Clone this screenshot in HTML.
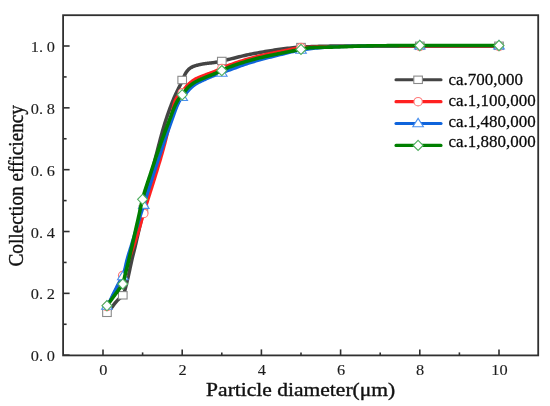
<!DOCTYPE html>
<html><head><meta charset="utf-8"><style>
html,body{margin:0;padding:0;background:#fff;width:550px;height:406px;overflow:hidden;}
svg{display:block;}
</style></head><body>
<svg width="550" height="406" viewBox="0 0 550 406">
<style>
.tk{font-family:"Liberation Serif",serif;font-size:14.6px;fill:#1c1c1c;stroke:#1c1c1c;stroke-width:0.12px;}
.ttl{font-family:"Liberation Serif",serif;font-size:17.8px;fill:#111;stroke:#111;stroke-width:0.35px;}
.lg{font-family:"Liberation Serif",serif;font-size:16.5px;fill:#0a0a0a;stroke:#0a0a0a;stroke-width:0.25px;}
</style>
<rect width="550" height="406" fill="#fff"/>
<polyline points="107.50,312.80 107.94,312.26 108.38,311.72 108.83,311.17 109.27,310.62 109.71,310.07 110.15,309.51 110.59,308.95 111.04,308.39 111.48,307.83 111.92,307.25 112.36,306.66 112.81,306.07 113.25,305.46 113.69,304.87 114.13,304.28 114.57,303.70 115.02,303.14 115.46,302.61 115.90,302.09 116.34,301.59 116.78,301.09 117.23,300.61 117.67,300.14 118.11,299.69 118.55,299.25 118.99,298.85 119.44,298.51 119.88,298.19 120.32,297.89 120.76,297.59 121.20,297.27 121.65,296.92 122.09,296.52 122.53,296.06 122.97,295.52 123.42,294.84 123.86,293.79 124.30,292.42 124.74,290.82 125.18,289.07 125.63,287.27 126.07,285.51 126.51,283.80 126.95,282.02 127.39,280.16 127.84,278.25 128.28,276.31 128.72,274.35 129.16,272.37 129.60,270.31 130.05,268.21 130.49,266.11 130.93,264.03 131.37,262.01 131.81,260.07 132.26,258.20 132.70,256.37 133.14,254.57 133.58,252.80 134.03,251.03 134.47,249.26 134.91,247.46 135.35,245.63 135.79,243.75 136.24,241.84 136.68,239.92 137.12,237.98 137.56,236.04 138.00,234.11 138.45,232.20 138.89,230.30 139.33,228.39 139.77,226.47 140.21,224.53 140.66,222.56 141.10,220.55 141.54,218.46 141.98,216.33 142.42,214.17 142.87,212.02 143.31,209.92 143.75,207.88 144.19,205.84 144.64,203.81 145.08,201.79 145.52,199.79 145.96,197.79 146.40,195.81 146.85,193.83 147.29,191.87 147.73,189.92 148.17,187.98 148.61,186.06 149.06,184.15 149.50,182.25 149.94,180.37 150.38,178.50 150.82,176.64 151.27,174.80 151.71,172.97 152.15,171.15 152.59,169.34 153.03,167.55 153.48,165.77 153.92,163.99 154.36,162.23 154.80,160.48 155.25,158.74 155.69,157.01 156.13,155.29 156.57,153.57 157.01,151.87 157.46,150.17 157.90,148.47 158.34,146.77 158.78,145.06 159.22,143.36 159.67,141.66 160.11,139.97 160.55,138.29 160.99,136.62 161.43,134.97 161.88,133.35 162.32,131.75 162.76,130.18 163.20,128.65 163.64,127.15 164.09,125.69 164.53,124.27 164.97,122.87 165.41,121.49 165.86,120.13 166.30,118.78 166.74,117.45 167.18,116.14 167.62,114.85 168.07,113.57 168.51,112.32 168.95,111.07 169.39,109.85 169.83,108.64 170.28,107.45 170.72,106.28 171.16,105.12 171.60,103.98 172.04,102.86 172.49,101.75 172.93,100.66 173.37,99.59 173.81,98.54 174.25,97.51 174.70,96.51 175.14,95.52 175.58,94.55 176.02,93.60 176.47,92.66 176.91,91.74 177.35,90.82 177.79,89.91 178.23,89.01 178.68,88.11 179.12,87.21 179.56,86.31 180.00,85.42 180.44,84.51 180.89,83.61 181.33,82.69 181.77,81.77 182.21,80.83 182.65,79.88 183.10,78.88 183.54,77.83 183.98,76.77 184.42,75.72 184.86,74.73 185.31,73.82 185.75,73.04 186.19,72.37 186.63,71.75 187.08,71.16 187.52,70.60 187.96,70.09 188.40,69.61 188.84,69.18 189.29,68.79 189.73,68.45 190.17,68.15 190.61,67.86 191.05,67.59 191.50,67.33 191.94,67.10 192.38,66.87 192.82,66.66 193.26,66.47 193.71,66.29 194.15,66.12 194.59,65.97 195.03,65.83 195.47,65.69 195.92,65.56 196.36,65.43 196.80,65.30 197.24,65.19 197.69,65.07 198.13,64.96 198.57,64.85 199.01,64.75 199.45,64.65 199.90,64.56 200.34,64.46 200.78,64.37 201.22,64.29 201.66,64.20 202.11,64.12 202.55,64.04 202.99,63.97 203.43,63.89 203.87,63.82 204.32,63.75 204.76,63.68 205.20,63.61 205.64,63.55 206.08,63.49 206.53,63.43 206.97,63.37 207.41,63.32 207.85,63.27 208.30,63.22 208.74,63.18 209.18,63.13 209.62,63.08 210.06,63.04 210.51,62.99 210.95,62.94 211.39,62.89 211.83,62.84 212.27,62.79 212.72,62.73 213.16,62.68 213.60,62.62 214.04,62.55 214.48,62.49 214.93,62.42 215.37,62.34 215.81,62.26 216.25,62.18 216.69,62.09 217.14,62.00 217.58,61.91 218.02,61.82 218.46,61.73 218.91,61.63 219.35,61.54 219.79,61.44 220.23,61.34 220.67,61.24 221.12,61.15 221.56,61.05 222.00,60.96 222.50,60.85 224.36,60.44 226.21,60.01 228.07,59.57 229.92,59.12 231.78,58.67 233.63,58.21 235.49,57.74 237.35,57.28 239.20,56.82 241.06,56.37 242.91,55.92 244.77,55.48 246.62,55.06 248.48,54.65 250.34,54.27 252.19,53.90 254.05,53.55 255.90,53.20 257.76,52.86 259.61,52.53 261.47,52.20 263.33,51.88 265.18,51.57 267.04,51.26 268.89,50.96 270.75,50.66 272.60,50.38 274.46,50.10 276.32,49.83 278.17,49.56 280.03,49.31 281.88,49.06 283.74,48.82 285.59,48.59 287.45,48.36 289.31,48.13 291.16,47.90 293.02,47.68 294.87,47.47 296.73,47.29 298.58,47.14 300.44,47.03 302.30,46.94 304.15,46.86 306.01,46.79 307.86,46.71 309.72,46.64 311.57,46.58 313.43,46.51 315.29,46.45 317.14,46.40 319.00,46.35 320.85,46.30 322.71,46.25 324.56,46.21 326.42,46.17 328.28,46.13 330.13,46.10 331.99,46.08 333.84,46.05 335.70,46.03 337.55,46.02 339.41,46.00 341.27,45.99 343.12,45.98 344.98,45.98 346.83,45.97 348.69,45.96 350.54,45.95 352.40,45.94 354.26,45.93 356.11,45.93 357.97,45.92 359.82,45.91 361.68,45.91 363.53,45.90 365.39,45.89 367.24,45.89 369.10,45.88 370.96,45.87 372.81,45.87 374.67,45.86 376.52,45.86 378.38,45.85 380.23,45.85 382.09,45.84 383.95,45.84 385.80,45.84 387.66,45.83 389.51,45.83 391.37,45.83 393.22,45.82 395.08,45.82 396.94,45.82 398.79,45.81 400.65,45.81 402.50,45.81 404.36,45.81 406.21,45.81 408.07,45.80 409.93,45.80 411.78,45.80 413.64,45.80 415.49,45.80 417.35,45.80 419.20,45.80 421.06,45.80 422.92,45.80 424.77,45.80 426.63,45.80 428.48,45.80 430.34,45.80 432.19,45.80 434.05,45.80 435.91,45.80 437.76,45.80 439.62,45.80 441.47,45.80 443.33,45.80 445.18,45.80 447.04,45.80 448.90,45.80 450.75,45.80 452.61,45.80 454.46,45.80 456.32,45.80 458.17,45.80 460.03,45.80 461.89,45.80 463.74,45.80 465.60,45.80 467.45,45.80 469.31,45.80 471.16,45.80 473.02,45.80 474.88,45.80 476.73,45.80 478.59,45.80 480.44,45.80 482.30,45.80 484.15,45.80 486.01,45.80 487.87,45.80 489.72,45.80 491.58,45.80 493.43,45.80 495.29,45.80 497.14,45.80 499.00,45.80" fill="none" stroke="#444444" stroke-width="3.5" stroke-linejoin="round" stroke-linecap="round"/>
<rect x="102.66" y="309.10" width="8.6" height="7.4" fill="#fff" stroke="#8a8a8a" stroke-width="1.1"/>
<rect x="118.50" y="291.60" width="8.6" height="7.4" fill="#fff" stroke="#8a8a8a" stroke-width="1.1"/>
<rect x="139.09" y="205.80" width="8.6" height="7.4" fill="#fff" stroke="#8a8a8a" stroke-width="1.1"/>
<rect x="177.90" y="76.30" width="8.6" height="7.4" fill="#fff" stroke="#8a8a8a" stroke-width="1.1"/>
<rect x="217.50" y="57.30" width="8.6" height="7.4" fill="#fff" stroke="#8a8a8a" stroke-width="1.1"/>
<rect x="296.70" y="43.40" width="8.6" height="7.4" fill="#fff" stroke="#8a8a8a" stroke-width="1.1"/>
<rect x="415.50" y="42.10" width="8.6" height="7.4" fill="#fff" stroke="#8a8a8a" stroke-width="1.1"/>
<rect x="494.70" y="42.10" width="8.6" height="7.4" fill="#fff" stroke="#8a8a8a" stroke-width="1.1"/>
<polyline points="107.00,306.60 107.44,305.87 107.89,305.12 108.33,304.36 108.78,303.58 109.22,302.79 109.66,301.98 110.11,301.16 110.55,300.32 111.00,299.46 111.44,298.57 111.88,297.67 112.33,296.76 112.77,295.86 113.22,294.97 113.66,294.08 114.10,293.20 114.55,292.31 114.99,291.43 115.44,290.53 115.88,289.63 116.32,288.74 116.77,287.84 117.21,286.94 117.66,286.03 118.10,285.11 118.54,284.18 118.99,283.23 119.43,282.24 119.88,281.23 120.32,280.21 120.76,279.17 121.21,278.12 121.65,277.09 122.10,276.06 122.54,275.06 122.98,274.08 123.43,273.12 123.87,272.16 124.32,271.19 124.76,270.21 125.20,269.19 125.65,268.14 126.09,267.07 126.54,265.96 126.98,264.83 127.42,263.69 127.87,262.52 128.31,261.34 128.76,260.16 129.20,258.95 129.64,257.73 130.09,256.47 130.53,255.21 130.98,253.93 131.42,252.65 131.86,251.38 132.31,250.13 132.75,248.89 133.20,247.65 133.64,246.41 134.08,245.16 134.53,243.88 134.97,242.58 135.42,241.25 135.86,239.90 136.31,238.53 136.75,237.14 137.19,235.74 137.64,234.33 138.08,232.90 138.53,231.45 138.97,230.00 139.41,228.53 139.86,227.03 140.30,225.51 140.75,223.97 141.19,222.42 141.63,220.86 142.08,219.31 142.52,217.76 142.97,216.23 143.41,214.71 143.85,213.22 144.30,211.75 144.74,210.29 145.19,208.84 145.63,207.40 146.07,205.96 146.52,204.54 146.96,203.12 147.41,201.70 147.85,200.29 148.29,198.89 148.74,197.49 149.18,196.09 149.63,194.69 150.07,193.30 150.51,191.90 150.96,190.50 151.40,189.11 151.85,187.71 152.29,186.30 152.73,184.90 153.18,183.48 153.62,182.07 154.07,180.64 154.51,179.21 154.95,177.77 155.40,176.32 155.84,174.86 156.29,173.40 156.73,171.95 157.17,170.49 157.62,169.04 158.06,167.59 158.51,166.13 158.95,164.66 159.39,163.19 159.84,161.71 160.28,160.22 160.73,158.71 161.17,157.19 161.61,155.65 162.06,154.10 162.50,152.52 162.95,150.93 163.39,149.30 163.83,147.65 164.28,145.98 164.72,144.28 165.17,142.56 165.61,140.82 166.05,139.06 166.50,137.28 166.94,135.49 167.39,133.69 167.83,131.88 168.27,130.06 168.72,128.23 169.16,126.40 169.61,124.56 170.05,122.60 170.49,120.51 170.94,118.32 171.38,116.08 171.83,113.82 172.27,111.58 172.71,109.40 173.16,107.33 173.60,105.40 174.05,103.64 174.49,102.11 174.93,100.83 175.38,99.85 175.82,99.02 176.27,98.26 176.71,97.57 177.15,96.93 177.60,96.34 178.04,95.79 178.49,95.27 178.93,94.78 179.37,94.31 179.82,93.86 180.26,93.41 180.71,92.96 181.15,92.51 181.59,92.04 182.04,91.54 182.48,91.02 182.93,90.48 183.37,89.92 183.81,89.36 184.26,88.80 184.70,88.24 185.15,87.69 185.59,87.14 186.03,86.61 186.48,86.10 186.92,85.60 187.37,85.13 187.81,84.69 188.25,84.26 188.70,83.85 189.14,83.45 189.59,83.05 190.03,82.66 190.47,82.28 190.92,81.91 191.36,81.56 191.81,81.21 192.25,80.87 192.69,80.55 193.14,80.24 193.58,79.94 194.03,79.66 194.47,79.39 194.92,79.14 195.36,78.89 195.80,78.66 196.25,78.43 196.69,78.22 197.14,78.01 197.58,77.80 198.02,77.60 198.47,77.41 198.91,77.22 199.36,77.04 199.80,76.86 200.24,76.69 200.69,76.51 201.13,76.34 201.58,76.17 202.02,76.00 202.46,75.83 202.91,75.66 203.35,75.49 203.80,75.32 204.24,75.14 204.68,74.97 205.13,74.79 205.57,74.62 206.02,74.44 206.46,74.28 206.90,74.11 207.35,73.94 207.79,73.78 208.24,73.61 208.68,73.45 209.12,73.29 209.57,73.12 210.01,72.96 210.46,72.80 210.90,72.63 211.34,72.47 211.79,72.31 212.23,72.14 212.68,71.97 213.12,71.80 213.56,71.63 214.01,71.46 214.45,71.28 214.90,71.10 215.34,70.92 215.78,70.73 216.23,70.55 216.67,70.36 217.12,70.16 217.56,69.97 218.00,69.78 218.45,69.58 218.89,69.38 219.34,69.18 219.78,68.99 220.22,68.79 220.67,68.59 221.11,68.39 221.56,68.19 222.00,67.99 222.50,67.77 224.36,66.96 226.21,66.18 228.07,65.45 229.92,64.76 231.78,64.09 233.63,63.43 235.49,62.78 237.35,62.15 239.20,61.53 241.06,60.92 242.91,60.33 244.77,59.76 246.62,59.20 248.48,58.66 250.34,58.14 252.19,57.63 254.05,57.15 255.90,56.67 257.76,56.21 259.61,55.76 261.47,55.32 263.33,54.89 265.18,54.47 267.04,54.05 268.89,53.65 270.75,53.25 272.60,52.86 274.46,52.48 276.32,52.10 278.17,51.73 280.03,51.36 281.88,51.00 283.74,50.64 285.59,50.28 287.45,49.91 289.31,49.52 291.16,49.12 293.02,48.74 294.87,48.38 296.73,48.07 298.58,47.82 300.44,47.64 302.30,47.53 304.15,47.42 306.01,47.32 307.86,47.23 309.72,47.14 311.57,47.06 313.43,46.98 315.29,46.90 317.14,46.83 319.00,46.77 320.85,46.71 322.71,46.65 324.56,46.60 326.42,46.56 328.28,46.52 330.13,46.48 331.99,46.46 333.84,46.43 335.70,46.42 337.55,46.41 339.41,46.40 341.27,46.40 343.12,46.40 344.98,46.40 346.83,46.40 348.69,46.40 350.54,46.40 352.40,46.41 354.26,46.41 356.11,46.41 357.97,46.41 359.82,46.42 361.68,46.42 363.53,46.42 365.39,46.42 367.24,46.43 369.10,46.43 370.96,46.43 372.81,46.44 374.67,46.44 376.52,46.44 378.38,46.45 380.23,46.45 382.09,46.45 383.95,46.46 385.80,46.46 387.66,46.46 389.51,46.47 391.37,46.47 393.22,46.47 395.08,46.48 396.94,46.48 398.79,46.48 400.65,46.49 402.50,46.49 404.36,46.49 406.21,46.49 408.07,46.49 409.93,46.50 411.78,46.50 413.64,46.50 415.49,46.50 417.35,46.50 419.20,46.50 421.06,46.50 422.92,46.50 424.77,46.50 426.63,46.50 428.48,46.50 430.34,46.50 432.19,46.50 434.05,46.50 435.91,46.50 437.76,46.50 439.62,46.50 441.47,46.50 443.33,46.50 445.18,46.50 447.04,46.50 448.90,46.50 450.75,46.50 452.61,46.50 454.46,46.50 456.32,46.50 458.17,46.50 460.03,46.50 461.89,46.50 463.74,46.50 465.60,46.50 467.45,46.50 469.31,46.50 471.16,46.50 473.02,46.50 474.88,46.50 476.73,46.50 478.59,46.50 480.44,46.50 482.30,46.50 484.15,46.50 486.01,46.50 487.87,46.50 489.72,46.50 491.58,46.50 493.43,46.50 495.29,46.50 497.14,46.50 499.00,46.50" fill="none" stroke="#ff2020" stroke-width="3.0" stroke-linejoin="round" stroke-linecap="round"/>
<circle cx="106.96" cy="306.60" r="4.2" fill="#fff" stroke="#ff7a7a" stroke-width="1.1"/>
<circle cx="122.60" cy="275.60" r="4.2" fill="#fff" stroke="#ff7a7a" stroke-width="1.1"/>
<circle cx="143.79" cy="213.40" r="4.2" fill="#fff" stroke="#ff7a7a" stroke-width="1.1"/>
<circle cx="182.20" cy="92.80" r="4.2" fill="#fff" stroke="#ff7a7a" stroke-width="1.1"/>
<circle cx="221.80" cy="68.50" r="4.2" fill="#fff" stroke="#ff7a7a" stroke-width="1.1"/>
<circle cx="301.00" cy="47.60" r="4.2" fill="#fff" stroke="#ff7a7a" stroke-width="1.1"/>
<circle cx="419.80" cy="46.50" r="4.2" fill="#fff" stroke="#ff7a7a" stroke-width="1.1"/>
<circle cx="499.00" cy="46.50" r="4.2" fill="#fff" stroke="#ff7a7a" stroke-width="1.1"/>
<polyline points="106.80,306.00 107.24,305.34 107.69,304.64 108.13,303.92 108.58,303.17 109.02,302.40 109.47,301.61 109.91,300.79 110.36,299.92 110.80,299.01 111.25,298.06 111.69,297.11 112.14,296.16 112.58,295.24 113.03,294.33 113.47,293.44 113.92,292.55 114.36,291.67 114.81,290.78 115.25,289.90 115.70,289.00 116.14,288.10 116.59,287.20 117.03,286.31 117.47,285.43 117.92,284.57 118.36,283.74 118.81,282.97 119.25,282.27 119.70,281.62 120.14,280.99 120.59,280.38 121.03,279.74 121.48,279.05 121.92,278.29 122.37,277.44 122.81,276.47 123.26,275.26 123.70,273.74 124.15,272.00 124.59,270.08 125.04,268.06 125.48,266.00 125.93,263.95 126.37,262.00 126.82,260.19 127.26,258.56 127.71,257.01 128.15,255.50 128.59,254.03 129.04,252.58 129.48,251.16 129.93,249.74 130.37,248.33 130.82,246.91 131.26,245.47 131.71,244.02 132.15,242.55 132.60,241.08 133.04,239.62 133.49,238.15 133.93,236.68 134.38,235.22 134.82,233.75 135.27,232.30 135.71,230.84 136.16,229.39 136.60,227.94 137.05,226.50 137.49,225.05 137.94,223.61 138.38,222.18 138.82,220.75 139.27,219.32 139.71,217.91 140.16,216.50 140.60,215.10 141.05,213.72 141.49,212.34 141.94,210.97 142.38,209.60 142.83,208.22 143.27,206.85 143.72,205.46 144.16,204.06 144.61,202.66 145.05,201.25 145.50,199.83 145.94,198.41 146.39,196.99 146.83,195.57 147.28,194.14 147.72,192.71 148.17,191.28 148.61,189.85 149.05,188.43 149.50,187.00 149.94,185.58 150.39,184.16 150.83,182.74 151.28,181.33 151.72,179.92 152.17,178.53 152.61,177.13 153.06,175.75 153.50,174.37 153.95,173.00 154.39,171.64 154.84,170.28 155.28,168.92 155.73,167.57 156.17,166.22 156.62,164.87 157.06,163.53 157.51,162.19 157.95,160.86 158.40,159.53 158.84,158.20 159.28,156.87 159.73,155.55 160.17,154.23 160.62,152.91 161.06,151.59 161.51,150.27 161.95,148.95 162.40,147.63 162.84,146.31 163.29,144.98 163.73,143.65 164.18,142.33 164.62,141.00 165.07,139.68 165.51,138.36 165.96,137.05 166.40,135.74 166.85,134.44 167.29,133.15 167.74,131.87 168.18,130.60 168.63,129.34 169.07,128.10 169.52,126.86 169.96,125.65 170.40,124.45 170.85,123.23 171.29,121.99 171.74,120.74 172.18,119.47 172.63,118.21 173.07,116.94 173.52,115.67 173.96,114.41 174.41,113.17 174.85,111.94 175.30,110.73 175.74,109.54 176.19,108.39 176.63,107.27 177.08,106.18 177.52,105.14 177.97,104.14 178.41,103.20 178.86,102.31 179.30,101.48 179.75,100.71 180.19,100.01 180.63,99.40 181.08,98.85 181.52,98.35 181.97,97.87 182.41,97.39 182.86,96.90 183.30,96.40 183.75,95.90 184.19,95.40 184.64,94.89 185.08,94.38 185.53,93.88 185.97,93.37 186.42,92.87 186.86,92.37 187.31,91.87 187.75,91.37 188.20,90.89 188.64,90.40 189.09,89.93 189.53,89.46 189.98,89.00 190.42,88.55 190.86,88.11 191.31,87.68 191.75,87.26 192.20,86.86 192.64,86.47 193.09,86.09 193.53,85.73 193.98,85.39 194.42,85.06 194.87,84.75 195.31,84.46 195.76,84.17 196.20,83.90 196.65,83.63 197.09,83.37 197.54,83.12 197.98,82.88 198.43,82.64 198.87,82.41 199.32,82.18 199.76,81.96 200.21,81.75 200.65,81.53 201.09,81.32 201.54,81.11 201.98,80.91 202.43,80.70 202.87,80.50 203.32,80.29 203.76,80.09 204.21,79.88 204.65,79.67 205.10,79.47 205.54,79.26 205.99,79.06 206.43,78.85 206.88,78.65 207.32,78.46 207.77,78.26 208.21,78.06 208.66,77.87 209.10,77.68 209.55,77.49 209.99,77.30 210.44,77.11 210.88,76.93 211.33,76.74 211.77,76.56 212.21,76.38 212.66,76.20 213.10,76.02 213.55,75.84 213.99,75.66 214.44,75.48 214.88,75.31 215.33,75.14 215.77,74.97 216.22,74.80 216.66,74.63 217.11,74.46 217.55,74.29 218.00,74.13 218.44,73.96 218.89,73.80 219.33,73.64 219.78,73.48 220.22,73.32 220.67,73.16 221.11,73.00 221.56,72.84 222.00,72.68 222.50,72.51 224.36,71.85 226.21,71.20 228.07,70.55 229.92,69.88 231.78,69.22 233.63,68.54 235.49,67.87 237.35,67.19 239.20,66.52 241.06,65.86 242.91,65.21 244.77,64.56 246.62,63.93 248.48,63.32 250.34,62.73 252.19,62.15 254.05,61.60 255.90,61.06 257.76,60.53 259.61,60.01 261.47,59.51 263.33,59.01 265.18,58.52 267.04,58.03 268.89,57.56 270.75,57.09 272.60,56.63 274.46,56.17 276.32,55.71 278.17,55.26 280.03,54.81 281.88,54.37 283.74,53.92 285.59,53.48 287.45,53.02 289.31,52.55 291.16,52.07 293.02,51.60 294.87,51.16 296.73,50.75 298.58,50.38 300.44,50.08 302.30,49.83 304.15,49.58 306.01,49.35 307.86,49.12 309.72,48.89 311.57,48.68 313.43,48.47 315.29,48.27 317.14,48.08 319.00,47.89 320.85,47.72 322.71,47.56 324.56,47.40 326.42,47.26 328.28,47.13 330.13,47.01 331.99,46.91 333.84,46.81 335.70,46.73 337.55,46.67 339.41,46.61 341.27,46.57 343.12,46.53 344.98,46.49 346.83,46.46 348.69,46.42 350.54,46.38 352.40,46.35 354.26,46.31 356.11,46.28 357.97,46.25 359.82,46.22 361.68,46.19 363.53,46.16 365.39,46.13 367.24,46.10 369.10,46.07 370.96,46.05 372.81,46.02 374.67,46.00 376.52,45.97 378.38,45.95 380.23,45.93 382.09,45.91 383.95,45.89 385.80,45.87 387.66,45.85 389.51,45.84 391.37,45.82 393.22,45.80 395.08,45.79 396.94,45.78 398.79,45.77 400.65,45.75 402.50,45.74 404.36,45.74 406.21,45.73 408.07,45.72 409.93,45.71 411.78,45.71 413.64,45.71 415.49,45.70 417.35,45.70 419.20,45.70 421.06,45.70 422.92,45.70 424.77,45.70 426.63,45.70 428.48,45.70 430.34,45.70 432.19,45.70 434.05,45.70 435.91,45.70 437.76,45.70 439.62,45.70 441.47,45.70 443.33,45.70 445.18,45.70 447.04,45.70 448.90,45.70 450.75,45.70 452.61,45.70 454.46,45.70 456.32,45.70 458.17,45.70 460.03,45.70 461.89,45.70 463.74,45.70 465.60,45.70 467.45,45.70 469.31,45.70 471.16,45.70 473.02,45.70 474.88,45.70 476.73,45.70 478.59,45.70 480.44,45.70 482.30,45.70 484.15,45.70 486.01,45.70 487.87,45.70 489.72,45.70 491.58,45.70 493.43,45.70 495.29,45.70 497.14,45.70 499.00,45.70" fill="none" stroke="#0f64dc" stroke-width="3.2" stroke-linejoin="round" stroke-linecap="round"/>
<polygon points="106.96,300.80 112.26,309.20 101.66,309.20" fill="#fff" stroke="#4a90ee" stroke-width="1.1"/>
<polygon points="122.80,271.30 128.10,279.70 117.50,279.70" fill="#fff" stroke="#4a90ee" stroke-width="1.1"/>
<polygon points="143.79,200.00 149.09,208.40 138.49,208.40" fill="#fff" stroke="#4a90ee" stroke-width="1.1"/>
<polygon points="182.20,92.10 187.50,100.50 176.90,100.50" fill="#fff" stroke="#4a90ee" stroke-width="1.1"/>
<polygon points="221.80,67.80 227.10,76.20 216.50,76.20" fill="#fff" stroke="#4a90ee" stroke-width="1.1"/>
<polygon points="301.00,44.80 306.30,53.20 295.70,53.20" fill="#fff" stroke="#4a90ee" stroke-width="1.1"/>
<polygon points="419.80,40.50 425.10,48.90 414.50,48.90" fill="#fff" stroke="#4a90ee" stroke-width="1.1"/>
<polygon points="499.00,40.50 504.30,48.90 493.70,48.90" fill="#fff" stroke="#4a90ee" stroke-width="1.1"/>
<polyline points="106.80,305.70 107.24,305.12 107.69,304.53 108.13,303.94 108.58,303.35 109.02,302.77 109.47,302.17 109.91,301.58 110.36,300.99 110.80,300.40 111.25,299.80 111.69,299.20 112.14,298.61 112.58,298.01 113.03,297.41 113.47,296.80 113.92,296.20 114.36,295.60 114.81,294.99 115.25,294.39 115.70,293.78 116.14,293.17 116.59,292.56 117.03,291.95 117.47,291.34 117.92,290.73 118.36,290.11 118.81,289.49 119.25,288.90 119.70,288.35 120.14,287.82 120.59,287.29 121.03,286.73 121.48,286.12 121.92,285.44 122.37,284.67 122.81,283.77 123.26,282.58 123.70,281.00 124.15,279.17 124.59,277.20 125.04,275.19 125.48,273.28 125.93,271.51 126.37,269.74 126.82,267.97 127.26,266.20 127.71,264.41 128.15,262.60 128.59,260.77 129.04,258.91 129.48,257.02 129.93,255.10 130.37,253.16 130.82,251.20 131.26,249.24 131.71,247.28 132.15,245.33 132.60,243.38 133.04,241.43 133.49,239.48 133.93,237.53 134.38,235.57 134.82,233.61 135.27,231.65 135.71,229.68 136.16,227.71 136.60,225.74 137.05,223.77 137.49,221.79 137.94,219.81 138.38,217.82 138.82,215.84 139.27,213.82 139.71,211.75 140.16,209.65 140.60,207.56 141.05,205.49 141.49,203.48 141.94,201.56 142.38,199.75 142.83,198.06 143.27,196.44 143.72,194.86 144.16,193.33 144.61,191.84 145.05,190.38 145.50,188.96 145.94,187.56 146.39,186.19 146.83,184.84 147.28,183.50 147.72,182.17 148.17,180.84 148.61,179.51 149.05,178.18 149.50,176.84 149.94,175.48 150.39,174.11 150.83,172.74 151.28,171.38 151.72,170.02 152.17,168.67 152.61,167.32 153.06,165.98 153.50,164.65 153.95,163.31 154.39,161.99 154.84,160.67 155.28,159.35 155.73,158.04 156.17,156.74 156.62,155.44 157.06,154.14 157.51,152.86 157.95,151.58 158.40,150.30 158.84,149.03 159.28,147.76 159.73,146.49 160.17,145.23 160.62,143.97 161.06,142.72 161.51,141.46 161.95,140.22 162.40,138.98 162.84,137.74 163.29,136.51 163.73,135.29 164.18,134.07 164.62,132.87 165.07,131.67 165.51,130.47 165.96,129.29 166.40,128.12 166.85,126.95 167.29,125.80 167.74,124.65 168.18,123.49 168.63,122.32 169.07,121.13 169.52,119.93 169.96,118.73 170.40,117.52 170.85,116.32 171.29,115.12 171.74,113.92 172.18,112.74 172.63,111.58 173.07,110.43 173.52,109.30 173.96,108.20 174.41,107.13 174.85,106.10 175.30,105.10 175.74,104.13 176.19,103.22 176.63,102.35 177.08,101.53 177.52,100.76 177.97,100.05 178.41,99.40 178.86,98.81 179.30,98.26 179.75,97.75 180.19,97.26 180.63,96.78 181.08,96.31 181.52,95.82 181.97,95.32 182.41,94.78 182.86,94.21 183.30,93.62 183.75,93.01 184.19,92.38 184.64,91.75 185.08,91.11 185.53,90.49 185.97,89.88 186.42,89.30 186.86,88.74 187.31,88.22 187.75,87.75 188.20,87.31 188.64,86.89 189.09,86.49 189.53,86.10 189.98,85.72 190.42,85.35 190.86,84.99 191.31,84.65 191.75,84.31 192.20,83.99 192.64,83.68 193.09,83.38 193.53,83.08 193.98,82.80 194.42,82.53 194.87,82.26 195.31,82.00 195.76,81.75 196.20,81.51 196.65,81.27 197.09,81.04 197.54,80.82 197.98,80.60 198.43,80.39 198.87,80.18 199.32,79.98 199.76,79.78 200.21,79.58 200.65,79.38 201.09,79.19 201.54,79.00 201.98,78.81 202.43,78.62 202.87,78.43 203.32,78.25 203.76,78.06 204.21,77.87 204.65,77.68 205.10,77.49 205.54,77.30 205.99,77.12 206.43,76.94 206.88,76.76 207.32,76.58 207.77,76.41 208.21,76.24 208.66,76.07 209.10,75.89 209.55,75.72 209.99,75.55 210.44,75.38 210.88,75.21 211.33,75.04 211.77,74.87 212.21,74.69 212.66,74.52 213.10,74.34 213.55,74.15 213.99,73.97 214.44,73.78 214.88,73.59 215.33,73.40 215.77,73.20 216.22,73.01 216.66,72.81 217.11,72.61 217.55,72.40 218.00,72.20 218.44,72.00 218.89,71.79 219.33,71.59 219.78,71.38 220.22,71.18 220.67,70.98 221.11,70.78 221.56,70.58 222.00,70.37 222.50,70.14 224.36,69.28 226.21,68.43 228.07,67.65 229.92,66.94 231.78,66.24 233.63,65.56 235.49,64.90 237.35,64.26 239.20,63.64 241.06,63.03 242.91,62.44 244.77,61.87 246.62,61.31 248.48,60.77 250.34,60.24 252.19,59.74 254.05,59.24 255.90,58.76 257.76,58.30 259.61,57.84 261.47,57.40 263.33,56.97 265.18,56.55 267.04,56.13 268.89,55.72 270.75,55.33 272.60,54.93 274.46,54.54 276.32,54.16 278.17,53.78 280.03,53.40 281.88,53.03 283.74,52.65 285.59,52.28 287.45,51.91 289.31,51.56 291.16,51.21 293.02,50.87 294.87,50.53 296.73,50.19 298.58,49.85 300.44,49.50 302.30,49.14 304.15,48.71 306.01,48.30 307.86,47.97 309.72,47.79 311.57,47.68 313.43,47.59 315.29,47.51 317.14,47.44 319.00,47.38 320.85,47.33 322.71,47.28 324.56,47.23 326.42,47.19 328.28,47.15 330.13,47.12 331.99,47.08 333.84,47.03 335.70,46.99 337.55,46.93 339.41,46.87 341.27,46.81 343.12,46.74 344.98,46.66 346.83,46.59 348.69,46.51 350.54,46.44 352.40,46.36 354.26,46.29 356.11,46.21 357.97,46.15 359.82,46.09 361.68,46.03 363.53,45.98 365.39,45.94 367.24,45.91 369.10,45.88 370.96,45.86 372.81,45.83 374.67,45.81 376.52,45.79 378.38,45.77 380.23,45.75 382.09,45.73 383.95,45.71 385.80,45.69 387.66,45.67 389.51,45.65 391.37,45.63 393.22,45.62 395.08,45.60 396.94,45.59 398.79,45.58 400.65,45.56 402.50,45.55 404.36,45.54 406.21,45.53 408.07,45.52 409.93,45.52 411.78,45.51 413.64,45.51 415.49,45.50 417.35,45.50 419.20,45.50 421.06,45.50 422.92,45.50 424.77,45.50 426.63,45.50 428.48,45.50 430.34,45.50 432.19,45.50 434.05,45.50 435.91,45.50 437.76,45.50 439.62,45.50 441.47,45.50 443.33,45.50 445.18,45.50 447.04,45.50 448.90,45.50 450.75,45.50 452.61,45.50 454.46,45.50 456.32,45.50 458.17,45.50 460.03,45.50 461.89,45.50 463.74,45.50 465.60,45.50 467.45,45.50 469.31,45.50 471.16,45.50 473.02,45.50 474.88,45.50 476.73,45.50 478.59,45.50 480.44,45.50 482.30,45.50 484.15,45.50 486.01,45.50 487.87,45.50 489.72,45.50 491.58,45.50 493.43,45.50 495.29,45.50 497.14,45.50 499.00,45.50" fill="none" stroke="#007f00" stroke-width="3.6" stroke-linejoin="round" stroke-linecap="round"/>
<polygon points="106.96,300.60 111.96,305.70 106.96,310.80 101.96,305.70" fill="#fff" stroke="#4fae5f" stroke-width="1.1"/>
<polygon points="122.80,278.90 127.80,284.00 122.80,289.10 117.80,284.00" fill="#fff" stroke="#4fae5f" stroke-width="1.1"/>
<polygon points="142.60,194.20 147.60,199.30 142.60,204.40 137.60,199.30" fill="#fff" stroke="#4fae5f" stroke-width="1.1"/>
<polygon points="182.20,89.70 187.20,94.80 182.20,99.90 177.20,94.80" fill="#fff" stroke="#4fae5f" stroke-width="1.1"/>
<polygon points="221.80,65.50 226.80,70.60 221.80,75.70 216.80,70.60" fill="#fff" stroke="#4fae5f" stroke-width="1.1"/>
<polygon points="301.00,44.30 306.00,49.40 301.00,54.50 296.00,49.40" fill="#fff" stroke="#4fae5f" stroke-width="1.1"/>
<polygon points="419.80,40.40 424.80,45.50 419.80,50.60 414.80,45.50" fill="#fff" stroke="#4fae5f" stroke-width="1.1"/>
<polygon points="499.00,40.40 504.00,45.50 499.00,50.60 494.00,45.50" fill="#fff" stroke="#4fae5f" stroke-width="1.1"/>
<rect x="63.1" y="15.2" width="475.1" height="340.2" fill="none" stroke="#303030" stroke-width="1.8"/>
<line x1="103.00" y1="355.4" x2="103.00" y2="349.4" stroke="#303030" stroke-width="1.6"/>
<line x1="142.60" y1="355.4" x2="142.60" y2="352.4" stroke="#303030" stroke-width="1.6"/>
<line x1="182.20" y1="355.4" x2="182.20" y2="349.4" stroke="#303030" stroke-width="1.6"/>
<line x1="221.80" y1="355.4" x2="221.80" y2="352.4" stroke="#303030" stroke-width="1.6"/>
<line x1="261.40" y1="355.4" x2="261.40" y2="349.4" stroke="#303030" stroke-width="1.6"/>
<line x1="301.00" y1="355.4" x2="301.00" y2="352.4" stroke="#303030" stroke-width="1.6"/>
<line x1="340.60" y1="355.4" x2="340.60" y2="349.4" stroke="#303030" stroke-width="1.6"/>
<line x1="380.20" y1="355.4" x2="380.20" y2="352.4" stroke="#303030" stroke-width="1.6"/>
<line x1="419.80" y1="355.4" x2="419.80" y2="349.4" stroke="#303030" stroke-width="1.6"/>
<line x1="459.40" y1="355.4" x2="459.40" y2="352.4" stroke="#303030" stroke-width="1.6"/>
<line x1="499.00" y1="355.4" x2="499.00" y2="349.4" stroke="#303030" stroke-width="1.6"/>
<line x1="63.1" y1="355.20" x2="69.6" y2="355.20" stroke="#303030" stroke-width="1.6"/>
<line x1="63.1" y1="324.28" x2="66.6" y2="324.28" stroke="#303030" stroke-width="1.6"/>
<line x1="63.1" y1="293.36" x2="69.6" y2="293.36" stroke="#303030" stroke-width="1.6"/>
<line x1="63.1" y1="262.44" x2="66.6" y2="262.44" stroke="#303030" stroke-width="1.6"/>
<line x1="63.1" y1="231.52" x2="69.6" y2="231.52" stroke="#303030" stroke-width="1.6"/>
<line x1="63.1" y1="200.60" x2="66.6" y2="200.60" stroke="#303030" stroke-width="1.6"/>
<line x1="63.1" y1="169.68" x2="69.6" y2="169.68" stroke="#303030" stroke-width="1.6"/>
<line x1="63.1" y1="138.76" x2="66.6" y2="138.76" stroke="#303030" stroke-width="1.6"/>
<line x1="63.1" y1="107.84" x2="69.6" y2="107.84" stroke="#303030" stroke-width="1.6"/>
<line x1="63.1" y1="76.92" x2="66.6" y2="76.92" stroke="#303030" stroke-width="1.6"/>
<line x1="63.1" y1="46.00" x2="69.6" y2="46.00" stroke="#303030" stroke-width="1.6"/>
<text transform="translate(30.8,361.20) scale(1.12,1)" class="tk">0</text><text transform="translate(39.0,361.20) scale(1.12,1)" class="tk">.</text><text transform="translate(46.7,361.20) scale(1.12,1)" class="tk">0</text>
<text transform="translate(30.8,299.36) scale(1.12,1)" class="tk">0</text><text transform="translate(39.0,299.36) scale(1.12,1)" class="tk">.</text><text transform="translate(46.7,299.36) scale(1.12,1)" class="tk">2</text>
<text transform="translate(30.8,237.52) scale(1.12,1)" class="tk">0</text><text transform="translate(39.0,237.52) scale(1.12,1)" class="tk">.</text><text transform="translate(46.7,237.52) scale(1.12,1)" class="tk">4</text>
<text transform="translate(30.8,175.68) scale(1.12,1)" class="tk">0</text><text transform="translate(39.0,175.68) scale(1.12,1)" class="tk">.</text><text transform="translate(46.7,175.68) scale(1.12,1)" class="tk">6</text>
<text transform="translate(30.8,113.84) scale(1.12,1)" class="tk">0</text><text transform="translate(39.0,113.84) scale(1.12,1)" class="tk">.</text><text transform="translate(46.7,113.84) scale(1.12,1)" class="tk">8</text>
<text transform="translate(30.8,52.00) scale(1.12,1)" class="tk">1</text><text transform="translate(39.0,52.00) scale(1.12,1)" class="tk">.</text><text transform="translate(46.7,52.00) scale(1.12,1)" class="tk">0</text>
<text transform="translate(103.40,375.2) scale(1.12,1)" class="tk" text-anchor="middle">0</text>
<text transform="translate(182.60,375.2) scale(1.12,1)" class="tk" text-anchor="middle">2</text>
<text transform="translate(261.80,375.2) scale(1.12,1)" class="tk" text-anchor="middle">4</text>
<text transform="translate(341.00,375.2) scale(1.12,1)" class="tk" text-anchor="middle">6</text>
<text transform="translate(420.20,375.2) scale(1.12,1)" class="tk" text-anchor="middle">8</text>
<text transform="translate(499.40,375.2) scale(1.12,1)" class="tk" text-anchor="middle">10</text>
<text transform="translate(206.1,395.6) scale(1.21,1)" class="ttl">Particle diameter(μm)</text>
<text transform="translate(23.3,185.75) scale(1.12,1) rotate(-90)" class="ttl" style="font-size:19.25px" text-anchor="middle">Collection efficiency</text>
<line x1="396" y1="79.80" x2="441" y2="79.80" stroke="#444444" stroke-width="3.1" stroke-linecap="round"/>
<rect x="413.80" y="76.10" width="8.6" height="7.4" fill="#fff" stroke="#8a8a8a" stroke-width="1.1"/>
<text transform="translate(448.5,85.40) scale(1.03,1)" class="lg">ca.700,000</text>
<line x1="396" y1="101.67" x2="441" y2="101.67" stroke="#ff2020" stroke-width="3.1" stroke-linecap="round"/>
<circle cx="418.10" cy="101.67" r="4.2" fill="#fff" stroke="#ff7a7a" stroke-width="1.1"/>
<text transform="translate(448.5,105.97) scale(1.03,1)" class="lg">ca.1,100,000</text>
<line x1="396" y1="123.54" x2="441" y2="123.54" stroke="#0f64dc" stroke-width="3.1" stroke-linecap="round"/>
<polygon points="418.10,118.34 423.40,126.74 412.80,126.74" fill="#fff" stroke="#4a90ee" stroke-width="1.1"/>
<text transform="translate(448.5,126.54) scale(1.03,1)" class="lg">ca.1,480,000</text>
<line x1="396" y1="145.41" x2="441" y2="145.41" stroke="#007f00" stroke-width="3.1" stroke-linecap="round"/>
<polygon points="418.10,140.31 423.10,145.41 418.10,150.51 413.10,145.41" fill="#fff" stroke="#4fae5f" stroke-width="1.1"/>
<text transform="translate(448.5,147.11) scale(1.03,1)" class="lg">ca.1,880,000</text>
</svg>
</body></html>
